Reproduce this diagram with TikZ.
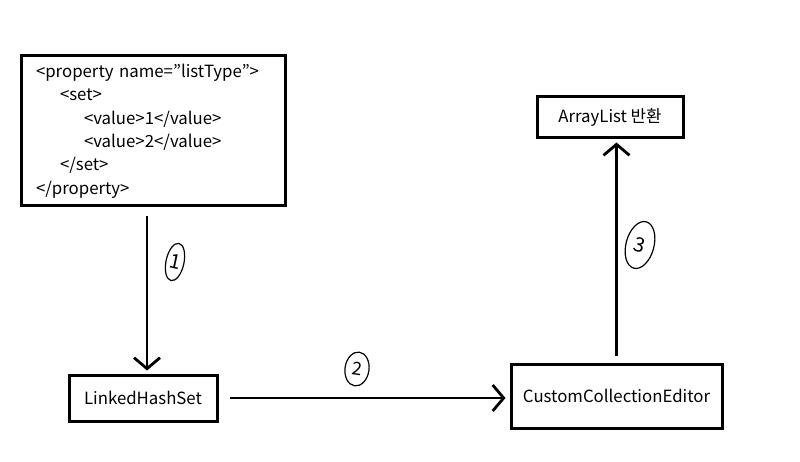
\documentclass[tikz,border=0pt]{standalone}
\usepackage{fontspec}
\setmainfont{Noto Sans CJK KR}
\usetikzlibrary{arrows.meta, shapes.geometric}

\begin{document}
\begin{tikzpicture}[x=1pt, y=-1pt,
  box/.style={draw, line width=3pt, inner sep=0pt, font=\fontsize{16.8}{23.4}\selectfont},
  flow/.style={line width=2.8pt, -{Straight Barb[length=11pt, width=26pt, line width=2.8pt]}},
  numring/.style={draw, ellipse, line width=1.2pt, inner sep=0pt}]
\fill[white] (0,0) rectangle (800,462);
\node[box, minimum width=264pt, minimum height=150pt, text width=234pt, align=left] (code) at (153, 131)
  {<property name="listType">\\
   \hspace*{24pt}<set>\\
   \hspace*{48pt}<value>1</value>\\
   \hspace*{48pt}<value>2</value>\\
   \hspace*{24pt}</set>\\
   </property>};
\node[box, minimum width=148pt, minimum height=46pt] (lhs) at (143, 398) {LinkedHashSet};
\node[box, minimum width=211pt, minimum height=64pt] (cce) at (616.5, 396) {CustomCollectionEditor};
\node[box, minimum width=146pt, minimum height=41pt] (al) at (610, 117.5) {ArrayList 반환};
% steps
\draw[flow, shorten <=9pt, shorten >=3pt] ([xshift=4pt]lhs.north |- code.south) -- ([xshift=4pt]lhs.north);
\draw[flow, shorten <=11pt, shorten >=4pt] (lhs.east) -- (lhs.east -| cce.west);
\draw[flow, shorten <=7pt, shorten >=3pt] (cce.north) -- (cce.north |- al.south);
% circled numbers
\node[numring, minimum width=18pt, minimum height=38pt, rotate=-12,
  font=\fontsize{20}{20}\selectfont] (n1) at (175, 262) {1};
\node[numring, minimum width=24pt, minimum height=34pt, rotate=-8,
  font=\fontsize{18}{18}\selectfont] (n2) at (357, 369) {2};
\node[numring, minimum width=28pt, minimum height=48pt, rotate=-15,
  font=\fontsize{20}{20}\selectfont] (n3) at (640, 245) {3};
\end{tikzpicture}
\end{document}
